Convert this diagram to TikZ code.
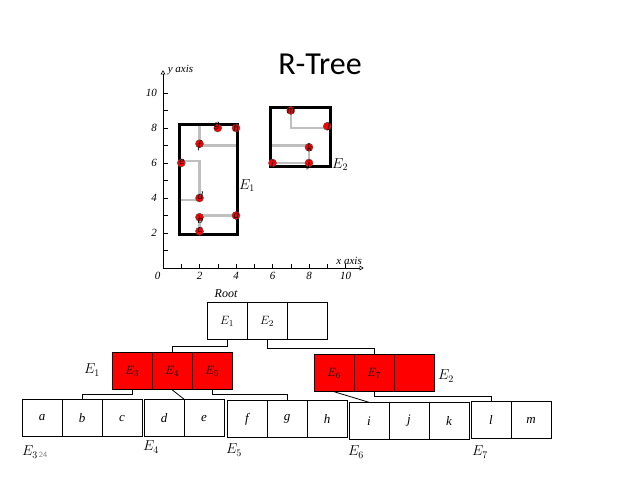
\documentclass[tikz,border=0pt]{standalone}
\usepackage{fontspec}
\newfontfamily\titlefont{Carlito}
\setmainfont{Liberation Serif}
\usetikzlibrary{arrows.meta}
\tikzset{
  cell/.style={draw,inner sep=0pt,minimum width=40pt,minimum height=37pt,font=\fontsize{13}{15}\selectfont\itshape},
  redcell/.style={cell,fill=red},
  pt/.style={circle,draw=black!70,fill=red,inner sep=0pt,minimum size=8pt},
  part/.style={gray!50,line width=2.2pt},
  mbr/.style={line width=3pt},
  lbl/.style={font=\fontsize{11}{13}\selectfont\itshape,inner sep=1pt},
  elbl/.style={font=\fontsize{14}{16}\selectfont,inner sep=1pt},
  link/.style={thick}
}
\begin{document}
\begin{tikzpicture}[x=1pt,y=-1pt]
\useasboundingbox (0,0) rectangle (638,479);
\node[font=\titlefont\fontsize{32}{36}\selectfont] (title) at (320,64) {R-Tree};

% plot
\begin{scope}[shift={(163,268)},x=18.25pt,y=17.5pt]
  \draw[semithick,-{Triangle[open]}] (0,0) -- (11,0);
  \draw[semithick,-{Triangle[open]}] (0,0) -- (0,11.3);
  \foreach \t in {1,...,10} {
    \draw (\t,0) -- (\t,0.25);
    \draw (0,\t) -- (0.3,\t);
  }
  \foreach \t in {2,4,...,10} {
    \node[lbl,below=3pt] (xt\t) at (\t,0) {\t};
    \node[lbl,left=5pt] (yt\t) at (0,\t) {\t};
  }
  \node[lbl,below=3pt] (xt0) at (-0.3,0) {0};
  \node[lbl,anchor=south] (xlab) at (10.2,0.1) {x axis};
  \node[lbl,anchor=west] (ylab) at (0.2,11.3) {y axis};
  % partitions
  \draw[part] (0.9,3.9) -- (2,3.9) -- (2,6.1) -- (1,6.1);
  \draw[part] (2,2.1) -- (2,3) -- (4,3);
  \draw[part] (2,8.2) -- (2,7) -- (4.1,7);
  \draw[part] (7,9) -- (7,8) -- (9,8);
  \draw[part] (5.9,7) -- (8,7) -- (8,6);
  \draw[part] (6,6) -- (8,6);
  % bounding rectangles
  \draw[mbr] (0.9,1.9) rectangle (4.1,8.2);
  \draw[mbr] (5.9,5.8) rectangle (9.2,9.2);
  \node[elbl,anchor=west] (E1) at (4.1,4.7) {$E_1$};
  \node[elbl,anchor=west] (E2) at (9.2,5.9) {$E_2$};
  % points
  \foreach \n/\px/\py/\a in {a/4/3/east,b/2/2.9/north west,c/2/2.1/south west,d/2/4/south west,
      e/1/6/south west,f/2/7.1/north,g/3/8/south east,h/4/8/south,
      i/6/6/north,j/8/6/north,k/8/6.9/east,l/9/8.1/east,m/7/9/south} {
    \node[pt] (\n) at (\px,\py) {};
    \node[lbl,anchor=\a] (\n lab) at (\n.\a) {\n};
  }
\end{scope}

% tree
\node[lbl,font=\fontsize{12}{14}\selectfont\itshape] (root) at (226,294) {Root};
\node[cell] (r1) at (227,321) {$E_1$};
\node[cell] (r2) at (267,321) {$E_2$};
\node[cell] (r3) at (307,321) {};

\node[redcell] (n3) at (132,371) {$E_3$};
\node[redcell] (n4) at (172,371) {$E_4$};
\node[redcell] (n5) at (212,371) {$E_5$};
\node[redcell] (n6) at (334,373) {$E_6$};
\node[redcell] (n7) at (374,373) {$E_7$};
\node[redcell] (n8) at (414,373) {};
\node[elbl] (lE1) at (92,370) {$E_1$};
\node[elbl] (lE2) at (446,376) {$E_2$};

\foreach \n/\px/\py in {a/42/418,b/82/418,c/122/418,d/164/418,e/204/418,
    f/247/419,g/287/419,h/327/419,i/369/421,j/409/421,k/449/421,l/491/420,m/531/420} {
  \node[cell] (leaf\n) at (\px,\py) {\n};
}
\node[elbl] (lE3) at (30,452) {$E_3$};
\node[elbl] (lE4) at (151,447) {$E_4$};
\node[elbl] (lE5) at (234,450) {$E_5$};
\node[elbl] (lE6) at (356,452) {$E_6$};
\node[elbl] (lE7) at (480,452) {$E_7$};
\node[font=\fontsize{8}{9}\selectfont\sffamily,text=gray] (page) at (43,455) {24};

\draw[link] (r1.south) -- ++(0,7) -| (n4.north);
\draw[link] (r2.south) -- ++(0,9) -| (n7.north);
\draw[link] (n3.south) -- ++(0,5) -| (leafb.north);
\draw[link] (n4.south) -- (leafd.north east);
\draw[link] (n5.south) -- ++(0,5) -| (leafg.north);
\draw[link] (n6.south) -- (leafi.north);
\draw[link] (n7.south) -- ++(0,5) -| (leafl.north);
\end{tikzpicture}
\end{document}
